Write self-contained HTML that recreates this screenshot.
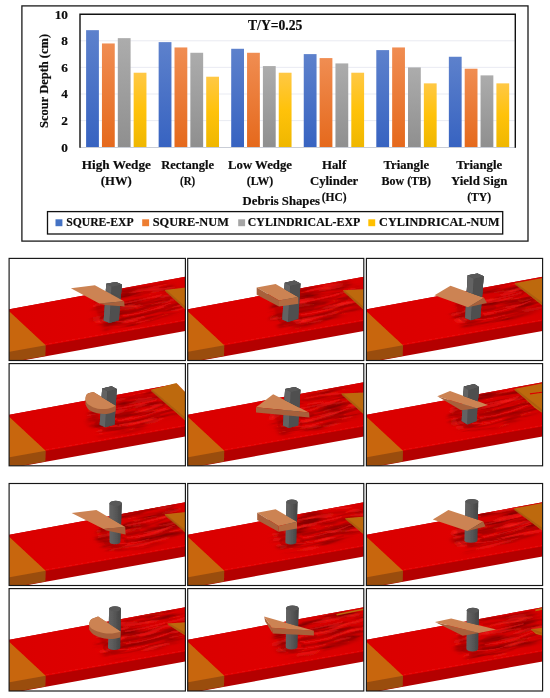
<!DOCTYPE html>
<html><head><meta charset="utf-8"><title>Scour depth figure</title>
<style>html,body{margin:0;padding:0;background:#fff}svg{display:block}text{font-family:"Liberation Serif",serif;font-weight:bold;fill:#0c0c0c;stroke:#0c0c0c;stroke-width:0.18px}</style>
</head><body>
<svg width="550" height="698" viewBox="0 0 550 698">
<defs>
<linearGradient id="gB" x1="0" y1="0" x2="0" y2="1"><stop offset="0" stop-color="#5d81cc"/><stop offset="1" stop-color="#3763c1"/></linearGradient>
<linearGradient id="gO" x1="0" y1="0" x2="0" y2="1"><stop offset="0" stop-color="#f08d52"/><stop offset="1" stop-color="#e5691c"/></linearGradient>
<linearGradient id="gG" x1="0" y1="0" x2="0" y2="1"><stop offset="0" stop-color="#acacac"/><stop offset="1" stop-color="#8f8f8f"/></linearGradient>
<linearGradient id="gY" x1="0" y1="0" x2="0" y2="1"><stop offset="0" stop-color="#ffc845"/><stop offset="0.5" stop-color="#ffc20a"/><stop offset="1" stop-color="#efb700"/></linearGradient>
<linearGradient id="gTop" x1="0" y1="0" x2="1" y2="0"><stop offset="0" stop-color="#d90000"/><stop offset="0.5" stop-color="#df0101"/><stop offset="1" stop-color="#d80000"/></linearGradient>
<linearGradient id="gFront" x1="0" y1="0" x2="0.18" y2="1"><stop offset="0" stop-color="#bc0000"/><stop offset="1" stop-color="#ac0000"/></linearGradient>
<linearGradient id="gCyl" x1="0" y1="0" x2="1" y2="0"><stop offset="0" stop-color="#646464"/><stop offset="0.45" stop-color="#595959"/><stop offset="1" stop-color="#444444"/></linearGradient>
<filter id="bl1" x="-20%" y="-50%" width="140%" height="200%"><feGaussianBlur stdDeviation="0.7"/></filter>
<filter id="bl15" x="-30%" y="-30%" width="160%" height="160%"><feGaussianBlur stdDeviation="1.2"/></filter>
<filter id="soft" filterUnits="userSpaceOnUse" x="0" y="250" width="550" height="448"><feGaussianBlur stdDeviation="0.45"/></filter>
<filter id="wrk0" color-interpolation-filters="sRGB" x="-10%" y="-20%" width="120%" height="140%"><feTurbulence type="fractalNoise" baseFrequency="0.028 0.24" numOctaves="3" seed="4" result="n"/><feColorMatrix in="n" type="matrix" values="0 0 0 0 0.52  0 0 0 0 0  0 0 0 0 0  3.0 0 0 0 -1.25" result="d"/><feGaussianBlur in="SourceAlpha" stdDeviation="2.2" result="m"/><feComposite in="d" in2="m" operator="in"/></filter>
<filter id="wrl0" color-interpolation-filters="sRGB" x="-10%" y="-20%" width="120%" height="140%"><feTurbulence type="fractalNoise" baseFrequency="0.032 0.26" numOctaves="2" seed="11" result="n"/><feColorMatrix in="n" type="matrix" values="0 0 0 0 0.97  0 0 0 0 0.12  0 0 0 0 0.10  0 2.6 0 0 -1.25" result="d"/><feGaussianBlur in="SourceAlpha" stdDeviation="2.2" result="m"/><feComposite in="d" in2="m" operator="in"/></filter>
<filter id="wrk1" color-interpolation-filters="sRGB" x="-10%" y="-20%" width="120%" height="140%"><feTurbulence type="fractalNoise" baseFrequency="0.028 0.24" numOctaves="3" seed="7" result="n"/><feColorMatrix in="n" type="matrix" values="0 0 0 0 0.52  0 0 0 0 0  0 0 0 0 0  3.0 0 0 0 -1.25" result="d"/><feGaussianBlur in="SourceAlpha" stdDeviation="2.2" result="m"/><feComposite in="d" in2="m" operator="in"/></filter>
<filter id="wrl1" color-interpolation-filters="sRGB" x="-10%" y="-20%" width="120%" height="140%"><feTurbulence type="fractalNoise" baseFrequency="0.032 0.26" numOctaves="2" seed="16" result="n"/><feColorMatrix in="n" type="matrix" values="0 0 0 0 0.97  0 0 0 0 0.12  0 0 0 0 0.10  0 2.6 0 0 -1.25" result="d"/><feGaussianBlur in="SourceAlpha" stdDeviation="2.2" result="m"/><feComposite in="d" in2="m" operator="in"/></filter>
<filter id="wrk2" color-interpolation-filters="sRGB" x="-10%" y="-20%" width="120%" height="140%"><feTurbulence type="fractalNoise" baseFrequency="0.028 0.24" numOctaves="3" seed="10" result="n"/><feColorMatrix in="n" type="matrix" values="0 0 0 0 0.52  0 0 0 0 0  0 0 0 0 0  3.0 0 0 0 -1.25" result="d"/><feGaussianBlur in="SourceAlpha" stdDeviation="2.2" result="m"/><feComposite in="d" in2="m" operator="in"/></filter>
<filter id="wrl2" color-interpolation-filters="sRGB" x="-10%" y="-20%" width="120%" height="140%"><feTurbulence type="fractalNoise" baseFrequency="0.032 0.26" numOctaves="2" seed="21" result="n"/><feColorMatrix in="n" type="matrix" values="0 0 0 0 0.97  0 0 0 0 0.12  0 0 0 0 0.10  0 2.6 0 0 -1.25" result="d"/><feGaussianBlur in="SourceAlpha" stdDeviation="2.2" result="m"/><feComposite in="d" in2="m" operator="in"/></filter>
<filter id="wrk3" color-interpolation-filters="sRGB" x="-10%" y="-20%" width="120%" height="140%"><feTurbulence type="fractalNoise" baseFrequency="0.028 0.24" numOctaves="3" seed="13" result="n"/><feColorMatrix in="n" type="matrix" values="0 0 0 0 0.52  0 0 0 0 0  0 0 0 0 0  3.0 0 0 0 -1.25" result="d"/><feGaussianBlur in="SourceAlpha" stdDeviation="2.2" result="m"/><feComposite in="d" in2="m" operator="in"/></filter>
<filter id="wrl3" color-interpolation-filters="sRGB" x="-10%" y="-20%" width="120%" height="140%"><feTurbulence type="fractalNoise" baseFrequency="0.032 0.26" numOctaves="2" seed="26" result="n"/><feColorMatrix in="n" type="matrix" values="0 0 0 0 0.97  0 0 0 0 0.12  0 0 0 0 0.10  0 2.6 0 0 -1.25" result="d"/><feGaussianBlur in="SourceAlpha" stdDeviation="2.2" result="m"/><feComposite in="d" in2="m" operator="in"/></filter>
<filter id="wrk4" color-interpolation-filters="sRGB" x="-10%" y="-20%" width="120%" height="140%"><feTurbulence type="fractalNoise" baseFrequency="0.028 0.24" numOctaves="3" seed="16" result="n"/><feColorMatrix in="n" type="matrix" values="0 0 0 0 0.52  0 0 0 0 0  0 0 0 0 0  3.0 0 0 0 -1.25" result="d"/><feGaussianBlur in="SourceAlpha" stdDeviation="2.2" result="m"/><feComposite in="d" in2="m" operator="in"/></filter>
<filter id="wrl4" color-interpolation-filters="sRGB" x="-10%" y="-20%" width="120%" height="140%"><feTurbulence type="fractalNoise" baseFrequency="0.032 0.26" numOctaves="2" seed="31" result="n"/><feColorMatrix in="n" type="matrix" values="0 0 0 0 0.97  0 0 0 0 0.12  0 0 0 0 0.10  0 2.6 0 0 -1.25" result="d"/><feGaussianBlur in="SourceAlpha" stdDeviation="2.2" result="m"/><feComposite in="d" in2="m" operator="in"/></filter>
<filter id="wrk5" color-interpolation-filters="sRGB" x="-10%" y="-20%" width="120%" height="140%"><feTurbulence type="fractalNoise" baseFrequency="0.028 0.24" numOctaves="3" seed="19" result="n"/><feColorMatrix in="n" type="matrix" values="0 0 0 0 0.52  0 0 0 0 0  0 0 0 0 0  3.0 0 0 0 -1.25" result="d"/><feGaussianBlur in="SourceAlpha" stdDeviation="2.2" result="m"/><feComposite in="d" in2="m" operator="in"/></filter>
<filter id="wrl5" color-interpolation-filters="sRGB" x="-10%" y="-20%" width="120%" height="140%"><feTurbulence type="fractalNoise" baseFrequency="0.032 0.26" numOctaves="2" seed="36" result="n"/><feColorMatrix in="n" type="matrix" values="0 0 0 0 0.97  0 0 0 0 0.12  0 0 0 0 0.10  0 2.6 0 0 -1.25" result="d"/><feGaussianBlur in="SourceAlpha" stdDeviation="2.2" result="m"/><feComposite in="d" in2="m" operator="in"/></filter>
<filter id="wrk6" color-interpolation-filters="sRGB" x="-10%" y="-20%" width="120%" height="140%"><feTurbulence type="fractalNoise" baseFrequency="0.028 0.24" numOctaves="3" seed="22" result="n"/><feColorMatrix in="n" type="matrix" values="0 0 0 0 0.52  0 0 0 0 0  0 0 0 0 0  3.0 0 0 0 -1.25" result="d"/><feGaussianBlur in="SourceAlpha" stdDeviation="2.2" result="m"/><feComposite in="d" in2="m" operator="in"/></filter>
<filter id="wrl6" color-interpolation-filters="sRGB" x="-10%" y="-20%" width="120%" height="140%"><feTurbulence type="fractalNoise" baseFrequency="0.032 0.26" numOctaves="2" seed="41" result="n"/><feColorMatrix in="n" type="matrix" values="0 0 0 0 0.97  0 0 0 0 0.12  0 0 0 0 0.10  0 2.6 0 0 -1.25" result="d"/><feGaussianBlur in="SourceAlpha" stdDeviation="2.2" result="m"/><feComposite in="d" in2="m" operator="in"/></filter>
<filter id="wrk7" color-interpolation-filters="sRGB" x="-10%" y="-20%" width="120%" height="140%"><feTurbulence type="fractalNoise" baseFrequency="0.028 0.24" numOctaves="3" seed="25" result="n"/><feColorMatrix in="n" type="matrix" values="0 0 0 0 0.52  0 0 0 0 0  0 0 0 0 0  3.0 0 0 0 -1.25" result="d"/><feGaussianBlur in="SourceAlpha" stdDeviation="2.2" result="m"/><feComposite in="d" in2="m" operator="in"/></filter>
<filter id="wrl7" color-interpolation-filters="sRGB" x="-10%" y="-20%" width="120%" height="140%"><feTurbulence type="fractalNoise" baseFrequency="0.032 0.26" numOctaves="2" seed="46" result="n"/><feColorMatrix in="n" type="matrix" values="0 0 0 0 0.97  0 0 0 0 0.12  0 0 0 0 0.10  0 2.6 0 0 -1.25" result="d"/><feGaussianBlur in="SourceAlpha" stdDeviation="2.2" result="m"/><feComposite in="d" in2="m" operator="in"/></filter>
<filter id="wrk8" color-interpolation-filters="sRGB" x="-10%" y="-20%" width="120%" height="140%"><feTurbulence type="fractalNoise" baseFrequency="0.028 0.24" numOctaves="3" seed="28" result="n"/><feColorMatrix in="n" type="matrix" values="0 0 0 0 0.52  0 0 0 0 0  0 0 0 0 0  3.0 0 0 0 -1.25" result="d"/><feGaussianBlur in="SourceAlpha" stdDeviation="2.2" result="m"/><feComposite in="d" in2="m" operator="in"/></filter>
<filter id="wrl8" color-interpolation-filters="sRGB" x="-10%" y="-20%" width="120%" height="140%"><feTurbulence type="fractalNoise" baseFrequency="0.032 0.26" numOctaves="2" seed="51" result="n"/><feColorMatrix in="n" type="matrix" values="0 0 0 0 0.97  0 0 0 0 0.12  0 0 0 0 0.10  0 2.6 0 0 -1.25" result="d"/><feGaussianBlur in="SourceAlpha" stdDeviation="2.2" result="m"/><feComposite in="d" in2="m" operator="in"/></filter>
<filter id="wrk9" color-interpolation-filters="sRGB" x="-10%" y="-20%" width="120%" height="140%"><feTurbulence type="fractalNoise" baseFrequency="0.028 0.24" numOctaves="3" seed="31" result="n"/><feColorMatrix in="n" type="matrix" values="0 0 0 0 0.52  0 0 0 0 0  0 0 0 0 0  3.0 0 0 0 -1.25" result="d"/><feGaussianBlur in="SourceAlpha" stdDeviation="2.2" result="m"/><feComposite in="d" in2="m" operator="in"/></filter>
<filter id="wrl9" color-interpolation-filters="sRGB" x="-10%" y="-20%" width="120%" height="140%"><feTurbulence type="fractalNoise" baseFrequency="0.032 0.26" numOctaves="2" seed="56" result="n"/><feColorMatrix in="n" type="matrix" values="0 0 0 0 0.97  0 0 0 0 0.12  0 0 0 0 0.10  0 2.6 0 0 -1.25" result="d"/><feGaussianBlur in="SourceAlpha" stdDeviation="2.2" result="m"/><feComposite in="d" in2="m" operator="in"/></filter>
<filter id="wrk10" color-interpolation-filters="sRGB" x="-10%" y="-20%" width="120%" height="140%"><feTurbulence type="fractalNoise" baseFrequency="0.028 0.24" numOctaves="3" seed="34" result="n"/><feColorMatrix in="n" type="matrix" values="0 0 0 0 0.52  0 0 0 0 0  0 0 0 0 0  3.0 0 0 0 -1.25" result="d"/><feGaussianBlur in="SourceAlpha" stdDeviation="2.2" result="m"/><feComposite in="d" in2="m" operator="in"/></filter>
<filter id="wrl10" color-interpolation-filters="sRGB" x="-10%" y="-20%" width="120%" height="140%"><feTurbulence type="fractalNoise" baseFrequency="0.032 0.26" numOctaves="2" seed="61" result="n"/><feColorMatrix in="n" type="matrix" values="0 0 0 0 0.97  0 0 0 0 0.12  0 0 0 0 0.10  0 2.6 0 0 -1.25" result="d"/><feGaussianBlur in="SourceAlpha" stdDeviation="2.2" result="m"/><feComposite in="d" in2="m" operator="in"/></filter>
<filter id="wrk11" color-interpolation-filters="sRGB" x="-10%" y="-20%" width="120%" height="140%"><feTurbulence type="fractalNoise" baseFrequency="0.028 0.24" numOctaves="3" seed="37" result="n"/><feColorMatrix in="n" type="matrix" values="0 0 0 0 0.52  0 0 0 0 0  0 0 0 0 0  3.0 0 0 0 -1.25" result="d"/><feGaussianBlur in="SourceAlpha" stdDeviation="2.2" result="m"/><feComposite in="d" in2="m" operator="in"/></filter>
<filter id="wrl11" color-interpolation-filters="sRGB" x="-10%" y="-20%" width="120%" height="140%"><feTurbulence type="fractalNoise" baseFrequency="0.032 0.26" numOctaves="2" seed="66" result="n"/><feColorMatrix in="n" type="matrix" values="0 0 0 0 0.97  0 0 0 0 0.12  0 0 0 0 0.10  0 2.6 0 0 -1.25" result="d"/><feGaussianBlur in="SourceAlpha" stdDeviation="2.2" result="m"/><feComposite in="d" in2="m" operator="in"/></filter>
<filter id="bl2" x="-20%" y="-30%" width="140%" height="160%"><feGaussianBlur stdDeviation="2.5"/></filter>
</defs>
<rect x="0" y="0" width="550" height="698" fill="#ffffff"/>
<g id="chart">
<rect x="21.9" y="5.9" width="506.1" height="235.2" fill="#fff" stroke="#1a1a1a" stroke-width="1.3"/>
<line x1="80.0" y1="120.60" x2="515.3" y2="120.60" stroke="#e6e9f1" stroke-width="0.9"/>
<line x1="80.0" y1="94.00" x2="515.3" y2="94.00" stroke="#e6e9f1" stroke-width="0.9"/>
<line x1="80.0" y1="67.40" x2="515.3" y2="67.40" stroke="#e6e9f1" stroke-width="0.9"/>
<line x1="80.0" y1="40.80" x2="515.3" y2="40.80" stroke="#e6e9f1" stroke-width="0.9"/>
<rect x="86.10" y="30.16" width="12.8" height="117.04" fill="url(#gB)"/>
<rect x="101.95" y="43.46" width="12.8" height="103.74" fill="url(#gO)"/>
<rect x="117.80" y="38.14" width="12.8" height="109.06" fill="url(#gG)"/>
<rect x="133.65" y="72.72" width="12.8" height="74.48" fill="url(#gY)"/>
<rect x="158.65" y="42.13" width="12.8" height="105.07" fill="url(#gB)"/>
<rect x="174.50" y="47.45" width="12.8" height="99.75" fill="url(#gO)"/>
<rect x="190.35" y="52.77" width="12.8" height="94.43" fill="url(#gG)"/>
<rect x="206.20" y="76.71" width="12.8" height="70.49" fill="url(#gY)"/>
<rect x="231.20" y="48.78" width="12.8" height="98.42" fill="url(#gB)"/>
<rect x="247.05" y="52.77" width="12.8" height="94.43" fill="url(#gO)"/>
<rect x="262.90" y="66.07" width="12.8" height="81.13" fill="url(#gG)"/>
<rect x="278.75" y="72.72" width="12.8" height="74.48" fill="url(#gY)"/>
<rect x="303.75" y="54.10" width="12.8" height="93.10" fill="url(#gB)"/>
<rect x="319.60" y="58.09" width="12.8" height="89.11" fill="url(#gO)"/>
<rect x="335.45" y="63.41" width="12.8" height="83.79" fill="url(#gG)"/>
<rect x="351.30" y="72.72" width="12.8" height="74.48" fill="url(#gY)"/>
<rect x="376.30" y="50.11" width="12.8" height="97.09" fill="url(#gB)"/>
<rect x="392.15" y="47.45" width="12.8" height="99.75" fill="url(#gO)"/>
<rect x="408.00" y="67.40" width="12.8" height="79.80" fill="url(#gG)"/>
<rect x="423.85" y="83.36" width="12.8" height="63.84" fill="url(#gY)"/>
<rect x="448.85" y="56.76" width="12.8" height="90.44" fill="url(#gB)"/>
<rect x="464.70" y="68.73" width="12.8" height="78.47" fill="url(#gO)"/>
<rect x="480.55" y="75.38" width="12.8" height="71.82" fill="url(#gG)"/>
<rect x="496.40" y="83.36" width="12.8" height="63.84" fill="url(#gY)"/>
<line x1="80.0" y1="147.5" x2="515.3" y2="147.5" stroke="#c9cdd6" stroke-width="1"/>
<path d="M80.0,147.79999999999998 L80.0,14.2 L515.3,14.2 L515.3,147.79999999999998" fill="none" stroke="#111" stroke-width="1.4"/>
<text x="68.0" y="151.60" font-size="13.3" text-anchor="end">0</text>
<text x="68.0" y="125.00" font-size="13.3" text-anchor="end">2</text>
<text x="68.0" y="98.40" font-size="13.3" text-anchor="end">4</text>
<text x="68.0" y="71.80" font-size="13.3" text-anchor="end">6</text>
<text x="68.0" y="45.20" font-size="13.3" text-anchor="end">8</text>
<text x="68.0" y="18.60" font-size="13.3" text-anchor="end">10</text>
<text transform="translate(48.3 80.9) rotate(-90)" font-size="13.2" text-anchor="middle" textLength="94" lengthAdjust="spacingAndGlyphs">Scour Depth (cm)</text>
<text x="275.2" y="29.6" font-size="14" text-anchor="middle" textLength="54.4" lengthAdjust="spacingAndGlyphs">T/Y=0.25</text>
<text x="116.3" y="168.9" font-size="13" text-anchor="middle" textLength="69.1" lengthAdjust="spacingAndGlyphs">High Wedge</text>
<text x="116.3" y="184.7" font-size="13" text-anchor="middle" textLength="31.0" lengthAdjust="spacingAndGlyphs">(HW)</text>
<text x="187.6" y="168.9" font-size="13" text-anchor="middle" textLength="52.9" lengthAdjust="spacingAndGlyphs">Rectangle</text>
<text x="187.6" y="184.7" font-size="13" text-anchor="middle" textLength="15.1" lengthAdjust="spacingAndGlyphs">(R)</text>
<text x="260.0" y="168.9" font-size="13" text-anchor="middle" textLength="64.0" lengthAdjust="spacingAndGlyphs">Low Wedge</text>
<text x="260.0" y="184.7" font-size="13" text-anchor="middle" textLength="26.6" lengthAdjust="spacingAndGlyphs">(LW)</text>
<text x="334.1" y="168.9" font-size="13" text-anchor="middle" textLength="24.3" lengthAdjust="spacingAndGlyphs">Half</text>
<text x="334.1" y="184.7" font-size="13" text-anchor="middle" textLength="48.3" lengthAdjust="spacingAndGlyphs">Cylinder</text>
<text x="334.1" y="200.5" font-size="13" text-anchor="middle" textLength="24.9" lengthAdjust="spacingAndGlyphs">(HC)</text>
<text x="406.3" y="168.9" font-size="13" text-anchor="middle" textLength="45.5" lengthAdjust="spacingAndGlyphs">Triangle</text>
<text x="406.3" y="184.7" font-size="13" text-anchor="middle" textLength="49.5" lengthAdjust="spacingAndGlyphs">Bow (TB)</text>
<text x="479.2" y="168.9" font-size="13" text-anchor="middle" textLength="46.0" lengthAdjust="spacingAndGlyphs">Triangle</text>
<text x="479.2" y="184.7" font-size="13" text-anchor="middle" textLength="56.5" lengthAdjust="spacingAndGlyphs">Yield Sign</text>
<text x="479.2" y="200.5" font-size="13" text-anchor="middle" textLength="24.1" lengthAdjust="spacingAndGlyphs">(TY)</text>
<text x="281.3" y="204.6" font-size="13" text-anchor="middle" textLength="77.4" lengthAdjust="spacingAndGlyphs">Debris Shapes</text>
<rect x="47.5" y="211.6" width="455.2" height="22.4" fill="#fff" stroke="#111" stroke-width="1.3"/>
<rect x="55.5" y="219.3" width="6.9" height="6.9" fill="#4472c4"/>
<text x="66.2" y="226.4" font-size="12.8" textLength="67.4" lengthAdjust="spacingAndGlyphs">SQURE-EXP</text>
<rect x="142.2" y="219.3" width="6.9" height="6.9" fill="#ed7d31"/>
<text x="152.7" y="226.4" font-size="12.8" textLength="76.2" lengthAdjust="spacingAndGlyphs">SQURE-NUM</text>
<rect x="238.2" y="219.3" width="6.9" height="6.9" fill="#a5a5a5"/>
<text x="247.8" y="226.4" font-size="12.8" textLength="112.4" lengthAdjust="spacingAndGlyphs">CYLINDRICAL-EXP</text>
<rect x="368.3" y="219.3" width="6.9" height="6.9" fill="#ffc000"/>
<text x="379.1" y="226.4" font-size="12.8" textLength="120.5" lengthAdjust="spacingAndGlyphs">CYLINDRICAL-NUM</text>
</g>
<defs>
<clipPath id="cp00"><rect x="9.1" y="258.4" width="176.3" height="102.1"/></clipPath>
<clipPath id="cp01"><rect x="187.7" y="258.4" width="176.1" height="102.1"/></clipPath>
<clipPath id="cp02"><rect x="366.4" y="258.4" width="176.2" height="102.1"/></clipPath>
<clipPath id="cp10"><rect x="9.1" y="363.6" width="176.3" height="102.2"/></clipPath>
<clipPath id="cp11"><rect x="187.7" y="363.6" width="176.1" height="102.2"/></clipPath>
<clipPath id="cp12"><rect x="366.4" y="363.6" width="176.2" height="102.2"/></clipPath>
<clipPath id="cp20"><rect x="9.1" y="483.5" width="176.3" height="102.0"/></clipPath>
<clipPath id="cp21"><rect x="187.7" y="483.5" width="176.1" height="102.0"/></clipPath>
<clipPath id="cp22"><rect x="366.4" y="483.5" width="176.2" height="102.0"/></clipPath>
<clipPath id="cp30"><rect x="9.1" y="588.6" width="176.3" height="102.4"/></clipPath>
<clipPath id="cp31"><rect x="187.7" y="588.6" width="176.1" height="102.4"/></clipPath>
<clipPath id="cp32"><rect x="366.4" y="588.6" width="176.2" height="102.4"/></clipPath>
</defs>
<g clip-path="url(#cp00)"><g filter="url(#soft)">
<polygon points="8.1,309.4 186.6,276.5 186.6,330.7 8.1,363.1" fill="#b40000" />
<polygon points="8.1,309.4 186.6,276.5 186.6,320.7 8.1,352.0" fill="url(#gTop)" />
<path d="M39.1,345.5 L186.6,319.7" stroke="#ec0c0c" stroke-width="1.4" stroke-opacity="0.55" fill="none"/>
<polygon points="8.1,318.2 29.1,338.2 45.7,345.2 45.4,355.9 8.1,362.6" fill="#9a4e0e" />
<polygon points="8.1,311.4 9.7,311.8 45.7,345.2 8.1,352.0" fill="#c8660a" />
<clipPath id="ts9_258"><polygon points="8.1,309.4 186.6,276.5 186.6,320.7 8.1,352.0"/></clipPath>
<g clip-path="url(#ts9_258)"><g transform="translate(111.0 322.0)">
<path d="M-16,-20 L6,-32 L52,-38 L72,-26 L70,-10 L30,2 L-6,5 L-17,-4 Z" fill="#c40000" fill-opacity="0.32" filter="url(#bl2)"/>
<g transform="rotate(-11)"><path d="M-12,-22 L10,-29 L62,-28 L84,-15 L76,1 L30,9 L-8,7 L-19,-8 Z" fill="#000" filter="url(#wrk0)"/><path d="M-12,-22 L10,-29 L62,-28 L84,-15 L76,1 L30,9 L-8,7 L-19,-8 Z" fill="#000" filter="url(#wrl0)"/></g>
<path d="M-15,-19 C-16,-8 -10,1 2,2.5 L8,1 L-5,-4 L-8,-16 Z" fill="#990000" fill-opacity="0.42" filter="url(#bl15)"/>
<ellipse cx="1" cy="-2.5" rx="11.5" ry="4.6" fill="none" stroke="#a00000" stroke-opacity="0.40" stroke-width="2.2" filter="url(#bl1)"/>
<ellipse cx="17" cy="-11.5" rx="8.5" ry="3.2" transform="rotate(-12 17 -11.5)" fill="#a00000" fill-opacity="0.45" filter="url(#bl1)"/>
<g fill="none" stroke="#9a0000" stroke-linecap="round" filter="url(#bl1)">
<path d="M10,-3 C22,-4 30,-6 38,-8.5 S56,-15 68,-18" stroke-width="2.2" stroke-opacity="0.50"/>
<path d="M12,-9.5 C24,-11 32,-13 42,-16 S52,-20 58,-22" stroke-width="2.0" stroke-opacity="0.45"/>
<path d="M11,-26.5 C22,-28 30,-29.5 38,-30.5 S48,-31.5 54,-32" stroke-width="2.2" stroke-opacity="0.30"/>
<path d="M26,-6 C36,-7 46,-10 54,-12" stroke-width="1.4" stroke-opacity="0.40"/>
<path d="M-3,3.4 C10,4 22,1 30,-1.5 S44,-6 52,-8" stroke-width="1.8" stroke-opacity="0.38"/>
<path d="M30,-18 C38,-20 46,-23 52,-26" stroke-width="1.5" stroke-opacity="0.35"/>
</g>
<g fill="none" stroke="#f41a1a" stroke-linecap="round" filter="url(#bl1)">
<path d="M11,-18.5 C24,-20.5 36,-23.5 50,-27" stroke-width="1.6" stroke-opacity="0.45"/>
<path d="M12,-6.3 C24,-7.5 34,-10 42,-12.5 S54,-17 60,-19" stroke-width="1.2" stroke-opacity="0.45"/>
<path d="M4,-0.5 C16,0 26,-2.5 34,-5" stroke-width="1.2" stroke-opacity="0.40"/>
</g>
</g></g>
<polygon points="164.7,290.1 186.0,287.5 186.0,310.2" fill="#bd690d" />
<path d="M165.9,290.7 L186.0,308.4" stroke="#a85a10" stroke-width="2" stroke-opacity="0.8" fill="none"/>
<polygon points="106.3,283.8 116.0,281.9 121.8,284.5 118.9,320.2 109.5,323.1 103.6,320.6" fill="#4f4f4f" />
<polygon points="106.3,283.8 111.6,286.7 109.5,323.1 103.6,320.6" fill="#636363" />
<polygon points="111.6,286.7 121.8,284.5 118.9,320.2 109.5,323.1" fill="#4f4f4f" />
<polygon points="106.3,283.8 116.0,281.9 121.8,284.5 111.6,286.7" fill="#595959" />
<polygon points="70.9,288.2 94.9,285.3 124.0,301.3 99.3,303.5" fill="#cc8352" />
<polygon points="99.3,303.5 124.0,301.3 124.7,306.4 105.0,305.0" fill="#a8613a" />
<clipPath id="u00"><polygon points="100.0,270.0 130.0,270.0 130.0,301.8 94.9,285.3"/></clipPath>
<g clip-path="url(#u00)">
<polygon points="106.3,283.8 116.0,281.9 121.8,284.5 118.9,320.2 109.5,323.1 103.6,320.6" fill="#4f4f4f" />
<polygon points="106.3,283.8 111.6,286.7 109.5,323.1 103.6,320.6" fill="#636363" />
<polygon points="111.6,286.7 121.8,284.5 118.9,320.2 109.5,323.1" fill="#4f4f4f" />
<polygon points="106.3,283.8 116.0,281.9 121.8,284.5 111.6,286.7" fill="#595959" />
</g>
</g></g>
<rect x="9.1" y="258.4" width="176.3" height="102.1" fill="none" stroke="#161616" stroke-width="1.15"/>
<g clip-path="url(#cp01)"><g filter="url(#soft)">
<polygon points="186.7,309.4 365.2,276.5 365.2,330.7 186.7,363.1" fill="#b40000" />
<polygon points="186.7,309.4 365.2,276.5 365.2,320.7 186.7,352.0" fill="url(#gTop)" />
<path d="M217.7,345.5 L365.2,319.7" stroke="#ec0c0c" stroke-width="1.4" stroke-opacity="0.55" fill="none"/>
<polygon points="186.7,318.2 207.7,338.2 224.3,345.2 224.0,355.9 186.7,362.6" fill="#9a4e0e" />
<polygon points="186.7,311.4 188.3,311.8 224.3,345.2 186.7,352.0" fill="#c8660a" />
<clipPath id="ts187_258"><polygon points="186.7,309.4 365.2,276.5 365.2,320.7 186.7,352.0"/></clipPath>
<g clip-path="url(#ts187_258)"><g transform="translate(289.0 321.0)">
<path d="M-16,-20 L6,-32 L52,-38 L72,-26 L70,-10 L30,2 L-6,5 L-17,-4 Z" fill="#c40000" fill-opacity="0.32" filter="url(#bl2)"/>
<g transform="rotate(-11)"><path d="M-12,-22 L10,-29 L62,-28 L84,-15 L76,1 L30,9 L-8,7 L-19,-8 Z" fill="#000" filter="url(#wrk1)"/><path d="M-12,-22 L10,-29 L62,-28 L84,-15 L76,1 L30,9 L-8,7 L-19,-8 Z" fill="#000" filter="url(#wrl1)"/></g>
<path d="M-15,-19 C-16,-8 -10,1 2,2.5 L8,1 L-5,-4 L-8,-16 Z" fill="#990000" fill-opacity="0.42" filter="url(#bl15)"/>
<ellipse cx="1" cy="-2.5" rx="11.5" ry="4.6" fill="none" stroke="#a00000" stroke-opacity="0.40" stroke-width="2.2" filter="url(#bl1)"/>
<ellipse cx="17" cy="-11.5" rx="8.5" ry="3.2" transform="rotate(-12 17 -11.5)" fill="#a00000" fill-opacity="0.45" filter="url(#bl1)"/>
<g fill="none" stroke="#9a0000" stroke-linecap="round" filter="url(#bl1)">
<path d="M10,-3 C22,-4 30,-6 38,-8.5 S56,-15 68,-18" stroke-width="2.2" stroke-opacity="0.50"/>
<path d="M12,-9.5 C24,-11 32,-13 42,-16 S52,-20 58,-22" stroke-width="2.0" stroke-opacity="0.45"/>
<path d="M11,-26.5 C22,-28 30,-29.5 38,-30.5 S48,-31.5 54,-32" stroke-width="2.2" stroke-opacity="0.30"/>
<path d="M26,-6 C36,-7 46,-10 54,-12" stroke-width="1.4" stroke-opacity="0.40"/>
<path d="M-3,3.4 C10,4 22,1 30,-1.5 S44,-6 52,-8" stroke-width="1.8" stroke-opacity="0.38"/>
<path d="M30,-18 C38,-20 46,-23 52,-26" stroke-width="1.5" stroke-opacity="0.35"/>
</g>
<g fill="none" stroke="#f41a1a" stroke-linecap="round" filter="url(#bl1)">
<path d="M11,-18.5 C24,-20.5 36,-23.5 50,-27" stroke-width="1.6" stroke-opacity="0.45"/>
<path d="M12,-6.3 C24,-7.5 34,-10 42,-12.5 S54,-17 60,-19" stroke-width="1.2" stroke-opacity="0.45"/>
<path d="M4,-0.5 C16,0 26,-2.5 34,-5" stroke-width="1.2" stroke-opacity="0.40"/>
</g>
</g></g>
<polygon points="342.8,290.3 365.0,289.3 365.0,311.2" fill="#bd690d" />
<path d="M344.0,290.9 L365.0,309.4" stroke="#a85a10" stroke-width="2" stroke-opacity="0.8" fill="none"/>
<polygon points="284.8,282.8 294.5,280.5 300.4,283.4 298.2,318.7 288.0,322.0 282.2,319.5" fill="#4f4f4f" />
<polygon points="284.8,282.8 290.2,285.7 288.0,322.0 282.2,319.5" fill="#636363" />
<polygon points="290.2,285.7 300.4,283.4 298.2,318.7 288.0,322.0" fill="#4f4f4f" />
<polygon points="284.8,282.8 294.5,280.5 300.4,283.4 290.2,285.7" fill="#595959" />
<polygon points="256.7,287.5 275.6,284.1 298.2,296.9 279.0,300.5" fill="#cc8352" />
<polygon points="256.7,287.5 279.0,300.5 279.0,306.4 256.7,294.7" fill="#a8613a" />
<polygon points="279.0,300.5 298.2,296.9 298.4,303.7 279.0,306.4" fill="#b36b40" />
<clipPath id="u10"><polygon points="280.0,270.0 310.0,270.0 310.0,298.0 298.2,296.9 275.6,284.1"/></clipPath>
<g clip-path="url(#u10)">
<polygon points="284.8,282.8 294.5,280.5 300.4,283.4 298.2,318.7 288.0,322.0 282.2,319.5" fill="#4f4f4f" />
<polygon points="284.8,282.8 290.2,285.7 288.0,322.0 282.2,319.5" fill="#636363" />
<polygon points="290.2,285.7 300.4,283.4 298.2,318.7 288.0,322.0" fill="#4f4f4f" />
<polygon points="284.8,282.8 294.5,280.5 300.4,283.4 290.2,285.7" fill="#595959" />
</g>
</g></g>
<rect x="187.7" y="258.4" width="176.1" height="102.1" fill="none" stroke="#161616" stroke-width="1.15"/>
<g clip-path="url(#cp02)"><g filter="url(#soft)">
<polygon points="365.4,309.4 543.9,276.5 543.9,330.7 365.4,363.1" fill="#b40000" />
<polygon points="365.4,309.4 543.9,276.5 543.9,320.7 365.4,352.0" fill="url(#gTop)" />
<path d="M396.4,345.5 L543.9,319.7" stroke="#ec0c0c" stroke-width="1.4" stroke-opacity="0.55" fill="none"/>
<polygon points="365.4,318.2 386.4,338.2 403.0,345.2 402.7,355.9 365.4,362.6" fill="#9a4e0e" />
<polygon points="365.4,311.4 367.0,311.8 403.0,345.2 365.4,352.0" fill="#c8660a" />
<clipPath id="ts366_258"><polygon points="365.4,309.4 543.9,276.5 543.9,320.7 365.4,352.0"/></clipPath>
<g clip-path="url(#ts366_258)"><g transform="translate(471.0 320.0)">
<path d="M-16,-20 L6,-32 L52,-38 L72,-26 L70,-10 L30,2 L-6,5 L-17,-4 Z" fill="#c40000" fill-opacity="0.32" filter="url(#bl2)"/>
<g transform="rotate(-11)"><path d="M-12,-22 L10,-29 L62,-28 L84,-15 L76,1 L30,9 L-8,7 L-19,-8 Z" fill="#000" filter="url(#wrk2)"/><path d="M-12,-22 L10,-29 L62,-28 L84,-15 L76,1 L30,9 L-8,7 L-19,-8 Z" fill="#000" filter="url(#wrl2)"/></g>
<path d="M-15,-19 C-16,-8 -10,1 2,2.5 L8,1 L-5,-4 L-8,-16 Z" fill="#990000" fill-opacity="0.42" filter="url(#bl15)"/>
<ellipse cx="1" cy="-2.5" rx="11.5" ry="4.6" fill="none" stroke="#a00000" stroke-opacity="0.40" stroke-width="2.2" filter="url(#bl1)"/>
<ellipse cx="17" cy="-11.5" rx="8.5" ry="3.2" transform="rotate(-12 17 -11.5)" fill="#a00000" fill-opacity="0.45" filter="url(#bl1)"/>
<g fill="none" stroke="#9a0000" stroke-linecap="round" filter="url(#bl1)">
<path d="M10,-3 C22,-4 30,-6 38,-8.5 S56,-15 68,-18" stroke-width="2.2" stroke-opacity="0.50"/>
<path d="M12,-9.5 C24,-11 32,-13 42,-16 S52,-20 58,-22" stroke-width="2.0" stroke-opacity="0.45"/>
<path d="M11,-26.5 C22,-28 30,-29.5 38,-30.5 S48,-31.5 54,-32" stroke-width="2.2" stroke-opacity="0.30"/>
<path d="M26,-6 C36,-7 46,-10 54,-12" stroke-width="1.4" stroke-opacity="0.40"/>
<path d="M-3,3.4 C10,4 22,1 30,-1.5 S44,-6 52,-8" stroke-width="1.8" stroke-opacity="0.38"/>
<path d="M30,-18 C38,-20 46,-23 52,-26" stroke-width="1.5" stroke-opacity="0.35"/>
</g>
<g fill="none" stroke="#f41a1a" stroke-linecap="round" filter="url(#bl1)">
<path d="M11,-18.5 C24,-20.5 36,-23.5 50,-27" stroke-width="1.6" stroke-opacity="0.45"/>
<path d="M12,-6.3 C24,-7.5 34,-10 42,-12.5 S54,-17 60,-19" stroke-width="1.2" stroke-opacity="0.45"/>
<path d="M4,-0.5 C16,0 26,-2.5 34,-5" stroke-width="1.2" stroke-opacity="0.40"/>
</g>
</g></g>
<polygon points="514.3,283.2 544.0,277.7 544.0,306.7" fill="#bd690d" />
<path d="M515.5,283.8 L544.0,304.9" stroke="#a85a10" stroke-width="2" stroke-opacity="0.8" fill="none"/>
<polygon points="467.7,275.2 477.5,273.4 483.7,276.3 480.4,317.4 470.9,320.3 465.1,318.1" fill="#4f4f4f" />
<polygon points="467.7,275.2 473.8,278.8 470.9,320.3 465.1,318.1" fill="#636363" />
<polygon points="473.8,278.8 483.7,276.3 480.4,317.4 470.9,320.3" fill="#4f4f4f" />
<polygon points="467.7,275.2 477.5,273.4 483.7,276.3 473.8,278.8" fill="#595959" />
<polygon points="434.5,295.3 450.5,285.7 484.0,297.7 468.0,307.2" fill="#cc8352" />
<polygon points="484.0,297.7 486.9,303.1 468.0,307.2" fill="#a8613a" />
<clipPath id="u20"><polygon points="450.5,260.0 495.0,260.0 495.0,301.6 484.0,297.7 450.5,285.7"/></clipPath>
<g clip-path="url(#u20)">
<polygon points="467.7,275.2 477.5,273.4 483.7,276.3 480.4,317.4 470.9,320.3 465.1,318.1" fill="#4f4f4f" />
<polygon points="467.7,275.2 473.8,278.8 470.9,320.3 465.1,318.1" fill="#636363" />
<polygon points="473.8,278.8 483.7,276.3 480.4,317.4 470.9,320.3" fill="#4f4f4f" />
<polygon points="467.7,275.2 477.5,273.4 483.7,276.3 473.8,278.8" fill="#595959" />
</g>
</g></g>
<rect x="366.4" y="258.4" width="176.2" height="102.1" fill="none" stroke="#161616" stroke-width="1.15"/>
<g clip-path="url(#cp10)"><g filter="url(#soft)">
<polygon points="8.1,414.9 186.6,382.0 186.6,436.2 8.1,468.6" fill="#b40000" />
<polygon points="8.1,414.9 186.6,382.0 186.6,426.2 8.1,457.5" fill="url(#gTop)" />
<path d="M39.1,451.0 L186.6,425.2" stroke="#ec0c0c" stroke-width="1.4" stroke-opacity="0.55" fill="none"/>
<polygon points="8.1,423.7 29.1,443.7 45.7,450.7 45.4,461.4 8.1,468.1" fill="#9a4e0e" />
<polygon points="8.1,416.9 9.7,417.3 45.7,450.7 8.1,457.5" fill="#c8660a" />
<clipPath id="ts9_363"><polygon points="8.1,414.9 186.6,382.0 186.6,426.2 8.1,457.5"/></clipPath>
<g clip-path="url(#ts9_363)"><g transform="translate(106.0 427.0)">
<path d="M-16,-20 L6,-32 L52,-38 L72,-26 L70,-10 L30,2 L-6,5 L-17,-4 Z" fill="#c40000" fill-opacity="0.32" filter="url(#bl2)"/>
<g transform="rotate(-11)"><path d="M-12,-22 L10,-29 L62,-28 L84,-15 L76,1 L30,9 L-8,7 L-19,-8 Z" fill="#000" filter="url(#wrk3)"/><path d="M-12,-22 L10,-29 L62,-28 L84,-15 L76,1 L30,9 L-8,7 L-19,-8 Z" fill="#000" filter="url(#wrl3)"/></g>
<path d="M-15,-19 C-16,-8 -10,1 2,2.5 L8,1 L-5,-4 L-8,-16 Z" fill="#990000" fill-opacity="0.42" filter="url(#bl15)"/>
<ellipse cx="1" cy="-2.5" rx="11.5" ry="4.6" fill="none" stroke="#a00000" stroke-opacity="0.40" stroke-width="2.2" filter="url(#bl1)"/>
<ellipse cx="17" cy="-11.5" rx="8.5" ry="3.2" transform="rotate(-12 17 -11.5)" fill="#a00000" fill-opacity="0.45" filter="url(#bl1)"/>
<g fill="none" stroke="#9a0000" stroke-linecap="round" filter="url(#bl1)">
<path d="M10,-3 C22,-4 30,-6 38,-8.5 S56,-15 68,-18" stroke-width="2.2" stroke-opacity="0.50"/>
<path d="M12,-9.5 C24,-11 32,-13 42,-16 S52,-20 58,-22" stroke-width="2.0" stroke-opacity="0.45"/>
<path d="M11,-26.5 C22,-28 30,-29.5 38,-30.5 S48,-31.5 54,-32" stroke-width="2.2" stroke-opacity="0.30"/>
<path d="M26,-6 C36,-7 46,-10 54,-12" stroke-width="1.4" stroke-opacity="0.40"/>
<path d="M-3,3.4 C10,4 22,1 30,-1.5 S44,-6 52,-8" stroke-width="1.8" stroke-opacity="0.38"/>
<path d="M30,-18 C38,-20 46,-23 52,-26" stroke-width="1.5" stroke-opacity="0.35"/>
</g>
<g fill="none" stroke="#f41a1a" stroke-linecap="round" filter="url(#bl1)">
<path d="M11,-18.5 C24,-20.5 36,-23.5 50,-27" stroke-width="1.6" stroke-opacity="0.45"/>
<path d="M12,-6.3 C24,-7.5 34,-10 42,-12.5 S54,-17 60,-19" stroke-width="1.2" stroke-opacity="0.45"/>
<path d="M4,-0.5 C16,0 26,-2.5 34,-5" stroke-width="1.2" stroke-opacity="0.40"/>
</g>
</g></g>
<polygon points="150.5,389.8 176.5,383.1 186.0,392.8 186.0,421.2" fill="#bd690d" />
<path d="M151.7,390.4 L186.0,419.4" stroke="#a85a10" stroke-width="2" stroke-opacity="0.8" fill="none"/>
<polygon points="176.5,383.1 176.0,370.0 190.0,370.0 190.0,397.0" fill="#ffffff" />
<polygon points="102.2,388.4 111.6,386.2 116.7,389.1 114.5,424.7 105.1,427.2 99.6,424.7" fill="#4f4f4f" />
<polygon points="102.2,388.4 107.3,391.3 105.1,427.2 99.6,424.7" fill="#636363" />
<polygon points="107.3,391.3 116.7,389.1 114.5,424.7 105.1,427.2" fill="#4f4f4f" />
<polygon points="102.2,388.4 111.6,386.2 116.7,389.1 107.3,391.3" fill="#595959" />
<path d="M93.5,392.0 C92.4,392.4 88.2,392.9 86.9,394.2 C85.6,395.5 85.7,399.0 85.5,400.0 L85.5,404.6 C86.1,405.5 87.0,408.4 89.1,409.9 C91.1,411.3 94.6,412.7 97.8,413.3 C101.0,413.9 105.0,414.1 108.0,413.7 C111.0,413.3 114.2,411.6 115.5,411.2 L116.0,405.8 Z" fill="#a8613a"/>
<path d="M93.5,392.0 C92.4,392.4 88.2,392.9 86.9,394.2 C85.6,395.5 85.1,398.2 85.5,400.0 C85.9,401.8 87.0,403.7 89.1,405.1 C91.1,406.6 94.6,408.1 97.8,408.7 C101.0,409.3 105.0,409.2 108.0,408.7 C111.0,408.2 114.7,406.3 116.0,405.8 Z" fill="#cc8352"/>
<clipPath id="u01"><polygon points="93.5,375.0 125.0,375.0 125.0,411.0 116.0,405.8 93.5,392.0"/></clipPath>
<g clip-path="url(#u01)">
<polygon points="102.2,388.4 111.6,386.2 116.7,389.1 114.5,424.7 105.1,427.2 99.6,424.7" fill="#4f4f4f" />
<polygon points="102.2,388.4 107.3,391.3 105.1,427.2 99.6,424.7" fill="#636363" />
<polygon points="107.3,391.3 116.7,389.1 114.5,424.7 105.1,427.2" fill="#4f4f4f" />
<polygon points="102.2,388.4 111.6,386.2 116.7,389.1 107.3,391.3" fill="#595959" />
</g>
</g></g>
<rect x="9.1" y="363.6" width="176.3" height="102.2" fill="none" stroke="#161616" stroke-width="1.15"/>
<g clip-path="url(#cp11)"><g filter="url(#soft)">
<polygon points="186.7,414.9 365.2,382.0 365.2,436.2 186.7,468.6" fill="#b40000" />
<polygon points="186.7,414.9 365.2,382.0 365.2,426.2 186.7,457.5" fill="url(#gTop)" />
<path d="M217.7,451.0 L365.2,425.2" stroke="#ec0c0c" stroke-width="1.4" stroke-opacity="0.55" fill="none"/>
<polygon points="186.7,423.7 207.7,443.7 224.3,450.7 224.0,461.4 186.7,468.1" fill="#9a4e0e" />
<polygon points="186.7,416.9 188.3,417.3 224.3,450.7 186.7,457.5" fill="#c8660a" />
<clipPath id="ts187_363"><polygon points="186.7,414.9 365.2,382.0 365.2,426.2 186.7,457.5"/></clipPath>
<g clip-path="url(#ts187_363)"><g transform="translate(289.0 427.0)">
<path d="M-16,-20 L6,-32 L52,-38 L72,-26 L70,-10 L30,2 L-6,5 L-17,-4 Z" fill="#c40000" fill-opacity="0.32" filter="url(#bl2)"/>
<g transform="rotate(-11)"><path d="M-12,-22 L10,-29 L62,-28 L84,-15 L76,1 L30,9 L-8,7 L-19,-8 Z" fill="#000" filter="url(#wrk4)"/><path d="M-12,-22 L10,-29 L62,-28 L84,-15 L76,1 L30,9 L-8,7 L-19,-8 Z" fill="#000" filter="url(#wrl4)"/></g>
<path d="M-15,-19 C-16,-8 -10,1 2,2.5 L8,1 L-5,-4 L-8,-16 Z" fill="#990000" fill-opacity="0.42" filter="url(#bl15)"/>
<ellipse cx="1" cy="-2.5" rx="11.5" ry="4.6" fill="none" stroke="#a00000" stroke-opacity="0.40" stroke-width="2.2" filter="url(#bl1)"/>
<ellipse cx="17" cy="-11.5" rx="8.5" ry="3.2" transform="rotate(-12 17 -11.5)" fill="#a00000" fill-opacity="0.45" filter="url(#bl1)"/>
<g fill="none" stroke="#9a0000" stroke-linecap="round" filter="url(#bl1)">
<path d="M10,-3 C22,-4 30,-6 38,-8.5 S56,-15 68,-18" stroke-width="2.2" stroke-opacity="0.50"/>
<path d="M12,-9.5 C24,-11 32,-13 42,-16 S52,-20 58,-22" stroke-width="2.0" stroke-opacity="0.45"/>
<path d="M11,-26.5 C22,-28 30,-29.5 38,-30.5 S48,-31.5 54,-32" stroke-width="2.2" stroke-opacity="0.30"/>
<path d="M26,-6 C36,-7 46,-10 54,-12" stroke-width="1.4" stroke-opacity="0.40"/>
<path d="M-3,3.4 C10,4 22,1 30,-1.5 S44,-6 52,-8" stroke-width="1.8" stroke-opacity="0.38"/>
<path d="M30,-18 C38,-20 46,-23 52,-26" stroke-width="1.5" stroke-opacity="0.35"/>
</g>
<g fill="none" stroke="#f41a1a" stroke-linecap="round" filter="url(#bl1)">
<path d="M11,-18.5 C24,-20.5 36,-23.5 50,-27" stroke-width="1.6" stroke-opacity="0.45"/>
<path d="M12,-6.3 C24,-7.5 34,-10 42,-12.5 S54,-17 60,-19" stroke-width="1.2" stroke-opacity="0.45"/>
<path d="M4,-0.5 C16,0 26,-2.5 34,-5" stroke-width="1.2" stroke-opacity="0.40"/>
</g>
</g></g>
<polygon points="341.0,393.5 365.0,392.6 365.0,415.6" fill="#bd690d" />
<path d="M342.2,394.1 L365.0,413.8" stroke="#a85a10" stroke-width="2" stroke-opacity="0.8" fill="none"/>
<polygon points="285.1,389.1 295.0,386.9 300.4,389.8 298.2,425.5 288.7,428.1 282.9,425.5" fill="#4f4f4f" />
<polygon points="285.1,389.1 290.9,392.0 288.7,428.1 282.9,425.5" fill="#636363" />
<polygon points="290.9,392.0 300.4,389.8 298.2,425.5 288.7,428.1" fill="#4f4f4f" />
<polygon points="285.1,389.1 295.0,386.9 300.4,389.8 290.9,392.0" fill="#595959" />
<polygon points="256.0,407.3 273.2,394.2 309.1,412.4" fill="#cc8352" />
<polygon points="256.0,407.3 309.1,412.4 309.5,417.5 256.0,412.4" fill="#a8613a" />
<clipPath id="u11"><polygon points="273.2,375.0 315.0,375.0 315.0,415.4 309.1,412.4 273.2,394.2"/></clipPath>
<g clip-path="url(#u11)">
<polygon points="285.1,389.1 295.0,386.9 300.4,389.8 298.2,425.5 288.7,428.1 282.9,425.5" fill="#4f4f4f" />
<polygon points="285.1,389.1 290.9,392.0 288.7,428.1 282.9,425.5" fill="#636363" />
<polygon points="290.9,392.0 300.4,389.8 298.2,425.5 288.7,428.1" fill="#4f4f4f" />
<polygon points="285.1,389.1 295.0,386.9 300.4,389.8 290.9,392.0" fill="#595959" />
</g>
</g></g>
<rect x="187.7" y="363.6" width="176.1" height="102.2" fill="none" stroke="#161616" stroke-width="1.15"/>
<g clip-path="url(#cp12)"><g filter="url(#soft)">
<polygon points="365.4,414.9 543.9,382.0 543.9,436.2 365.4,468.6" fill="#b40000" />
<polygon points="365.4,414.9 543.9,382.0 543.9,426.2 365.4,457.5" fill="url(#gTop)" />
<path d="M396.4,451.0 L543.9,425.2" stroke="#ec0c0c" stroke-width="1.4" stroke-opacity="0.55" fill="none"/>
<polygon points="365.4,423.7 386.4,443.7 403.0,450.7 402.7,461.4 365.4,468.1" fill="#9a4e0e" />
<polygon points="365.4,416.9 367.0,417.3 403.0,450.7 365.4,457.5" fill="#c8660a" />
<clipPath id="ts366_363"><polygon points="365.4,414.9 543.9,382.0 543.9,426.2 365.4,457.5"/></clipPath>
<g clip-path="url(#ts366_363)"><g transform="translate(468.0 424.0)">
<path d="M-16,-20 L6,-32 L52,-38 L72,-26 L70,-10 L30,2 L-6,5 L-17,-4 Z" fill="#c40000" fill-opacity="0.32" filter="url(#bl2)"/>
<g transform="rotate(-11)"><path d="M-12,-22 L10,-29 L62,-28 L84,-15 L76,1 L30,9 L-8,7 L-19,-8 Z" fill="#000" filter="url(#wrk5)"/><path d="M-12,-22 L10,-29 L62,-28 L84,-15 L76,1 L30,9 L-8,7 L-19,-8 Z" fill="#000" filter="url(#wrl5)"/></g>
<path d="M-15,-19 C-16,-8 -10,1 2,2.5 L8,1 L-5,-4 L-8,-16 Z" fill="#990000" fill-opacity="0.42" filter="url(#bl15)"/>
<ellipse cx="1" cy="-2.5" rx="11.5" ry="4.6" fill="none" stroke="#a00000" stroke-opacity="0.40" stroke-width="2.2" filter="url(#bl1)"/>
<ellipse cx="17" cy="-11.5" rx="8.5" ry="3.2" transform="rotate(-12 17 -11.5)" fill="#a00000" fill-opacity="0.45" filter="url(#bl1)"/>
<g fill="none" stroke="#9a0000" stroke-linecap="round" filter="url(#bl1)">
<path d="M10,-3 C22,-4 30,-6 38,-8.5 S56,-15 68,-18" stroke-width="2.2" stroke-opacity="0.50"/>
<path d="M12,-9.5 C24,-11 32,-13 42,-16 S52,-20 58,-22" stroke-width="2.0" stroke-opacity="0.45"/>
<path d="M11,-26.5 C22,-28 30,-29.5 38,-30.5 S48,-31.5 54,-32" stroke-width="2.2" stroke-opacity="0.30"/>
<path d="M26,-6 C36,-7 46,-10 54,-12" stroke-width="1.4" stroke-opacity="0.40"/>
<path d="M-3,3.4 C10,4 22,1 30,-1.5 S44,-6 52,-8" stroke-width="1.8" stroke-opacity="0.38"/>
<path d="M30,-18 C38,-20 46,-23 52,-26" stroke-width="1.5" stroke-opacity="0.35"/>
</g>
<g fill="none" stroke="#f41a1a" stroke-linecap="round" filter="url(#bl1)">
<path d="M11,-18.5 C24,-20.5 36,-23.5 50,-27" stroke-width="1.6" stroke-opacity="0.45"/>
<path d="M12,-6.3 C24,-7.5 34,-10 42,-12.5 S54,-17 60,-19" stroke-width="1.2" stroke-opacity="0.45"/>
<path d="M4,-0.5 C16,0 26,-2.5 34,-5" stroke-width="1.2" stroke-opacity="0.40"/>
</g>
</g></g>
<polygon points="514.0,388.9 544.0,383.0 544.0,414.0 535.0,408.0 527.0,400.5" fill="#bd690d" />
<path d="M515.2,389.5 L544.0,412.2" stroke="#a85a10" stroke-width="2" stroke-opacity="0.8" fill="none"/>
<path d="M529.8,393.2 L544,391.4 L544,392.6 L530,394.4 Z" fill="#dc0000"/>
<polygon points="463.9,386.4 474.3,384.1 478.9,387.1 476.6,421.0 467.3,424.5 461.6,421.0" fill="#4f4f4f" />
<polygon points="463.9,386.4 468.5,389.9 467.3,424.5 461.6,421.0" fill="#636363" />
<polygon points="468.5,389.9 478.9,387.1 476.6,421.0 467.3,424.5" fill="#4f4f4f" />
<polygon points="463.9,386.4 474.3,384.1 478.9,387.1 468.5,389.9" fill="#595959" />
<polygon points="437.3,396.3 476.6,408.3 461.1,410.2" fill="#a8613a" />
<polygon points="437.3,396.3 450.0,391.0 488.1,404.9 476.6,408.3" fill="#cc8352" />
<clipPath id="u21"><polygon points="450.0,370.0 495.0,370.0 495.0,407.4 488.1,404.9 450.0,391.0"/></clipPath>
<g clip-path="url(#u21)">
<polygon points="463.9,386.4 474.3,384.1 478.9,387.1 476.6,421.0 467.3,424.5 461.6,421.0" fill="#4f4f4f" />
<polygon points="463.9,386.4 468.5,389.9 467.3,424.5 461.6,421.0" fill="#636363" />
<polygon points="468.5,389.9 478.9,387.1 476.6,421.0 467.3,424.5" fill="#4f4f4f" />
<polygon points="463.9,386.4 474.3,384.1 478.9,387.1 468.5,389.9" fill="#595959" />
</g>
</g></g>
<rect x="366.4" y="363.6" width="176.2" height="102.2" fill="none" stroke="#161616" stroke-width="1.15"/>
<g clip-path="url(#cp20)"><g filter="url(#soft)">
<polygon points="8.1,534.9 186.6,502.0 186.6,556.2 8.1,588.6" fill="#b40000" />
<polygon points="8.1,534.9 186.6,502.0 186.6,546.2 8.1,577.5" fill="url(#gTop)" />
<path d="M39.1,571.0 L186.6,545.2" stroke="#ec0c0c" stroke-width="1.4" stroke-opacity="0.55" fill="none"/>
<polygon points="8.1,543.7 29.1,563.7 45.7,570.7 45.4,581.4 8.1,588.1" fill="#9a4e0e" />
<polygon points="8.1,536.9 9.7,537.3 45.7,570.7 8.1,577.5" fill="#c8660a" />
<clipPath id="ts9_483"><polygon points="8.1,534.9 186.6,502.0 186.6,546.2 8.1,577.5"/></clipPath>
<g clip-path="url(#ts9_483)"><g transform="translate(115.0 544.0)">
<path d="M-16,-20 L6,-32 L52,-38 L72,-26 L70,-10 L30,2 L-6,5 L-17,-4 Z" fill="#c40000" fill-opacity="0.32" filter="url(#bl2)"/>
<g transform="rotate(-11)"><path d="M-12,-22 L10,-29 L62,-28 L84,-15 L76,1 L30,9 L-8,7 L-19,-8 Z" fill="#000" filter="url(#wrk6)"/><path d="M-12,-22 L10,-29 L62,-28 L84,-15 L76,1 L30,9 L-8,7 L-19,-8 Z" fill="#000" filter="url(#wrl6)"/></g>
<path d="M-15,-19 C-16,-8 -10,1 2,2.5 L8,1 L-5,-4 L-8,-16 Z" fill="#990000" fill-opacity="0.42" filter="url(#bl15)"/>
<ellipse cx="1" cy="-2.5" rx="11.5" ry="4.6" fill="none" stroke="#a00000" stroke-opacity="0.40" stroke-width="2.2" filter="url(#bl1)"/>
<ellipse cx="17" cy="-11.5" rx="8.5" ry="3.2" transform="rotate(-12 17 -11.5)" fill="#a00000" fill-opacity="0.45" filter="url(#bl1)"/>
<g fill="none" stroke="#9a0000" stroke-linecap="round" filter="url(#bl1)">
<path d="M10,-3 C22,-4 30,-6 38,-8.5 S56,-15 68,-18" stroke-width="2.2" stroke-opacity="0.50"/>
<path d="M12,-9.5 C24,-11 32,-13 42,-16 S52,-20 58,-22" stroke-width="2.0" stroke-opacity="0.45"/>
<path d="M11,-26.5 C22,-28 30,-29.5 38,-30.5 S48,-31.5 54,-32" stroke-width="2.2" stroke-opacity="0.30"/>
<path d="M26,-6 C36,-7 46,-10 54,-12" stroke-width="1.4" stroke-opacity="0.40"/>
<path d="M-3,3.4 C10,4 22,1 30,-1.5 S44,-6 52,-8" stroke-width="1.8" stroke-opacity="0.38"/>
<path d="M30,-18 C38,-20 46,-23 52,-26" stroke-width="1.5" stroke-opacity="0.35"/>
</g>
<g fill="none" stroke="#f41a1a" stroke-linecap="round" filter="url(#bl1)">
<path d="M11,-18.5 C24,-20.5 36,-23.5 50,-27" stroke-width="1.6" stroke-opacity="0.45"/>
<path d="M12,-6.3 C24,-7.5 34,-10 42,-12.5 S54,-17 60,-19" stroke-width="1.2" stroke-opacity="0.45"/>
<path d="M4,-0.5 C16,0 26,-2.5 34,-5" stroke-width="1.2" stroke-opacity="0.40"/>
</g>
</g></g>
<polygon points="164.4,514.3 186.0,511.9 186.0,533.6 176.0,523.5" fill="#bd690d" />
<path d="M165.6,514.9 L186.0,531.8" stroke="#a85a10" stroke-width="2" stroke-opacity="0.8" fill="none"/>
<path d="M109.5,503.4 L109.5,541.9 A5.5,2.6 0 0 0 120.4,541.9 L121.8,503.4 Z" fill="url(#gCyl)"/>
<ellipse cx="115.7" cy="503.4" rx="6.1" ry="2.6" fill="#585858"/>
<polygon points="71.6,513.1 96.4,509.9 125.2,527.1 103.6,529.1" fill="#cc8352" />
<polygon points="103.6,529.1 125.2,526.8 125.6,534.4 106.5,530.5" fill="#a8613a" />
<clipPath id="u02"><polygon points="96.4,495.0 130.0,495.0 130.0,530.0 125.2,527.1 96.4,509.9"/></clipPath>
<g clip-path="url(#u02)">
<path d="M109.5,503.4 L109.5,541.9 A5.5,2.6 0 0 0 120.4,541.9 L121.8,503.4 Z" fill="url(#gCyl)"/>
<ellipse cx="115.7" cy="503.4" rx="6.1" ry="2.6" fill="#585858"/>
</g>
</g></g>
<rect x="9.1" y="483.5" width="176.3" height="102.0" fill="none" stroke="#161616" stroke-width="1.15"/>
<g clip-path="url(#cp21)"><g filter="url(#soft)">
<polygon points="186.7,534.9 365.2,502.0 365.2,556.2 186.7,588.6" fill="#b40000" />
<polygon points="186.7,534.9 365.2,502.0 365.2,546.2 186.7,577.5" fill="url(#gTop)" />
<path d="M217.7,571.0 L365.2,545.2" stroke="#ec0c0c" stroke-width="1.4" stroke-opacity="0.55" fill="none"/>
<polygon points="186.7,543.7 207.7,563.7 224.3,570.7 224.0,581.4 186.7,588.1" fill="#9a4e0e" />
<polygon points="186.7,536.9 188.3,537.3 224.3,570.7 186.7,577.5" fill="#c8660a" />
<clipPath id="ts187_483"><polygon points="186.7,534.9 365.2,502.0 365.2,546.2 186.7,577.5"/></clipPath>
<g clip-path="url(#ts187_483)"><g transform="translate(291.0 544.0)">
<path d="M-16,-20 L6,-32 L52,-38 L72,-26 L70,-10 L30,2 L-6,5 L-17,-4 Z" fill="#c40000" fill-opacity="0.32" filter="url(#bl2)"/>
<g transform="rotate(-11)"><path d="M-12,-22 L10,-29 L62,-28 L84,-15 L76,1 L30,9 L-8,7 L-19,-8 Z" fill="#000" filter="url(#wrk7)"/><path d="M-12,-22 L10,-29 L62,-28 L84,-15 L76,1 L30,9 L-8,7 L-19,-8 Z" fill="#000" filter="url(#wrl7)"/></g>
<path d="M-15,-19 C-16,-8 -10,1 2,2.5 L8,1 L-5,-4 L-8,-16 Z" fill="#990000" fill-opacity="0.42" filter="url(#bl15)"/>
<ellipse cx="1" cy="-2.5" rx="11.5" ry="4.6" fill="none" stroke="#a00000" stroke-opacity="0.40" stroke-width="2.2" filter="url(#bl1)"/>
<ellipse cx="17" cy="-11.5" rx="8.5" ry="3.2" transform="rotate(-12 17 -11.5)" fill="#a00000" fill-opacity="0.45" filter="url(#bl1)"/>
<g fill="none" stroke="#9a0000" stroke-linecap="round" filter="url(#bl1)">
<path d="M10,-3 C22,-4 30,-6 38,-8.5 S56,-15 68,-18" stroke-width="2.2" stroke-opacity="0.50"/>
<path d="M12,-9.5 C24,-11 32,-13 42,-16 S52,-20 58,-22" stroke-width="2.0" stroke-opacity="0.45"/>
<path d="M11,-26.5 C22,-28 30,-29.5 38,-30.5 S48,-31.5 54,-32" stroke-width="2.2" stroke-opacity="0.30"/>
<path d="M26,-6 C36,-7 46,-10 54,-12" stroke-width="1.4" stroke-opacity="0.40"/>
<path d="M-3,3.4 C10,4 22,1 30,-1.5 S44,-6 52,-8" stroke-width="1.8" stroke-opacity="0.38"/>
<path d="M30,-18 C38,-20 46,-23 52,-26" stroke-width="1.5" stroke-opacity="0.35"/>
</g>
<g fill="none" stroke="#f41a1a" stroke-linecap="round" filter="url(#bl1)">
<path d="M11,-18.5 C24,-20.5 36,-23.5 50,-27" stroke-width="1.6" stroke-opacity="0.45"/>
<path d="M12,-6.3 C24,-7.5 34,-10 42,-12.5 S54,-17 60,-19" stroke-width="1.2" stroke-opacity="0.45"/>
<path d="M4,-0.5 C16,0 26,-2.5 34,-5" stroke-width="1.2" stroke-opacity="0.40"/>
</g>
</g></g>
<polygon points="344.8,518.2 365.0,516.5 365.0,535.6" fill="#bd690d" />
<path d="M346.0,518.8 L365.0,533.8" stroke="#a85a10" stroke-width="2" stroke-opacity="0.8" fill="none"/>
<path d="M286.3,501.9 L285.4,542.2 A5.5,2.3 0 0 0 296.4,542.2 L297.5,501.9 Z" fill="url(#gCyl)"/>
<ellipse cx="291.9" cy="501.9" rx="5.6" ry="2.3" fill="#585858"/>
<polygon points="257.2,512.8 275.6,509.2 297.0,521.8 278.5,525.9" fill="#cc8352" />
<polygon points="257.2,512.8 278.5,525.9 278.5,531.7 257.2,520.1" fill="#a8613a" />
<polygon points="278.5,525.9 297.0,521.8 297.0,528.5 278.5,531.7" fill="#b36b40" />
<clipPath id="u12"><polygon points="275.6,495.0 305.0,495.0 305.0,526.0 297.0,521.8 275.6,509.2"/></clipPath>
<g clip-path="url(#u12)">
<path d="M286.3,501.9 L285.4,542.2 A5.5,2.3 0 0 0 296.4,542.2 L297.5,501.9 Z" fill="url(#gCyl)"/>
<ellipse cx="291.9" cy="501.9" rx="5.6" ry="2.3" fill="#585858"/>
</g>
</g></g>
<rect x="187.7" y="483.5" width="176.1" height="102.0" fill="none" stroke="#161616" stroke-width="1.15"/>
<g clip-path="url(#cp22)"><g filter="url(#soft)">
<polygon points="365.4,534.9 543.9,502.0 543.9,556.2 365.4,588.6" fill="#b40000" />
<polygon points="365.4,534.9 543.9,502.0 543.9,546.2 365.4,577.5" fill="url(#gTop)" />
<path d="M396.4,571.0 L543.9,545.2" stroke="#ec0c0c" stroke-width="1.4" stroke-opacity="0.55" fill="none"/>
<polygon points="365.4,543.7 386.4,563.7 403.0,570.7 402.7,581.4 365.4,588.1" fill="#9a4e0e" />
<polygon points="365.4,536.9 367.0,537.3 403.0,570.7 365.4,577.5" fill="#c8660a" />
<clipPath id="ts366_483"><polygon points="365.4,534.9 543.9,502.0 543.9,546.2 365.4,577.5"/></clipPath>
<g clip-path="url(#ts366_483)"><g transform="translate(471.0 543.0)">
<path d="M-16,-20 L6,-32 L52,-38 L72,-26 L70,-10 L30,2 L-6,5 L-17,-4 Z" fill="#c40000" fill-opacity="0.32" filter="url(#bl2)"/>
<g transform="rotate(-11)"><path d="M-12,-22 L10,-29 L62,-28 L84,-15 L76,1 L30,9 L-8,7 L-19,-8 Z" fill="#000" filter="url(#wrk8)"/><path d="M-12,-22 L10,-29 L62,-28 L84,-15 L76,1 L30,9 L-8,7 L-19,-8 Z" fill="#000" filter="url(#wrl8)"/></g>
<path d="M-15,-19 C-16,-8 -10,1 2,2.5 L8,1 L-5,-4 L-8,-16 Z" fill="#990000" fill-opacity="0.42" filter="url(#bl15)"/>
<ellipse cx="1" cy="-2.5" rx="11.5" ry="4.6" fill="none" stroke="#a00000" stroke-opacity="0.40" stroke-width="2.2" filter="url(#bl1)"/>
<ellipse cx="17" cy="-11.5" rx="8.5" ry="3.2" transform="rotate(-12 17 -11.5)" fill="#a00000" fill-opacity="0.45" filter="url(#bl1)"/>
<g fill="none" stroke="#9a0000" stroke-linecap="round" filter="url(#bl1)">
<path d="M10,-3 C22,-4 30,-6 38,-8.5 S56,-15 68,-18" stroke-width="2.2" stroke-opacity="0.50"/>
<path d="M12,-9.5 C24,-11 32,-13 42,-16 S52,-20 58,-22" stroke-width="2.0" stroke-opacity="0.45"/>
<path d="M11,-26.5 C22,-28 30,-29.5 38,-30.5 S48,-31.5 54,-32" stroke-width="2.2" stroke-opacity="0.30"/>
<path d="M26,-6 C36,-7 46,-10 54,-12" stroke-width="1.4" stroke-opacity="0.40"/>
<path d="M-3,3.4 C10,4 22,1 30,-1.5 S44,-6 52,-8" stroke-width="1.8" stroke-opacity="0.38"/>
<path d="M30,-18 C38,-20 46,-23 52,-26" stroke-width="1.5" stroke-opacity="0.35"/>
</g>
<g fill="none" stroke="#f41a1a" stroke-linecap="round" filter="url(#bl1)">
<path d="M11,-18.5 C24,-20.5 36,-23.5 50,-27" stroke-width="1.6" stroke-opacity="0.45"/>
<path d="M12,-6.3 C24,-7.5 34,-10 42,-12.5 S54,-17 60,-19" stroke-width="1.2" stroke-opacity="0.45"/>
<path d="M4,-0.5 C16,0 26,-2.5 34,-5" stroke-width="1.2" stroke-opacity="0.40"/>
</g>
</g></g>
<polygon points="513.5,508.6 544.0,502.7 544.0,532.0" fill="#bd690d" />
<path d="M514.7,509.2 L544.0,530.2" stroke="#a85a10" stroke-width="2" stroke-opacity="0.8" fill="none"/>
<path d="M465.4,501.5 L464.4,540.6 A6.6,2.5 0 0 0 477.5,540.6 L478.2,501.5 Z" fill="url(#gCyl)"/>
<ellipse cx="471.8" cy="501.5" rx="6.4" ry="2.5" fill="#585858"/>
<polygon points="432.8,519.4 448.4,509.9 483.3,521.5 467.3,531.0" fill="#cc8352" />
<polygon points="483.3,521.5 485.5,526.6 467.3,531.0" fill="#a8613a" />
<clipPath id="u22"><polygon points="448.4,490.0 495.0,490.0 495.0,525.4 483.3,521.5 448.4,509.9"/></clipPath>
<g clip-path="url(#u22)">
<path d="M465.4,501.5 L464.4,540.6 A6.6,2.5 0 0 0 477.5,540.6 L478.2,501.5 Z" fill="url(#gCyl)"/>
<ellipse cx="471.8" cy="501.5" rx="6.4" ry="2.5" fill="#585858"/>
</g>
</g></g>
<rect x="366.4" y="483.5" width="176.2" height="102.0" fill="none" stroke="#161616" stroke-width="1.15"/>
<g clip-path="url(#cp30)"><g filter="url(#soft)">
<polygon points="8.1,639.9 186.6,607.0 186.6,661.2 8.1,693.6" fill="#b40000" />
<polygon points="8.1,639.9 186.6,607.0 186.6,651.2 8.1,682.5" fill="url(#gTop)" />
<path d="M39.1,676.0 L186.6,650.2" stroke="#ec0c0c" stroke-width="1.4" stroke-opacity="0.55" fill="none"/>
<polygon points="8.1,648.7 29.1,668.7 45.7,675.7 45.4,686.4 8.1,693.1" fill="#9a4e0e" />
<polygon points="8.1,641.9 9.7,642.3 45.7,675.7 8.1,682.5" fill="#c8660a" />
<clipPath id="ts9_588"><polygon points="8.1,639.9 186.6,607.0 186.6,651.2 8.1,682.5"/></clipPath>
<g clip-path="url(#ts9_588)"><g transform="translate(114.5 650.0)">
<path d="M-16,-20 L6,-32 L52,-38 L72,-26 L70,-10 L30,2 L-6,5 L-17,-4 Z" fill="#c40000" fill-opacity="0.32" filter="url(#bl2)"/>
<g transform="rotate(-11)"><path d="M-12,-22 L10,-29 L62,-28 L84,-15 L76,1 L30,9 L-8,7 L-19,-8 Z" fill="#000" filter="url(#wrk9)"/><path d="M-12,-22 L10,-29 L62,-28 L84,-15 L76,1 L30,9 L-8,7 L-19,-8 Z" fill="#000" filter="url(#wrl9)"/></g>
<path d="M-15,-19 C-16,-8 -10,1 2,2.5 L8,1 L-5,-4 L-8,-16 Z" fill="#990000" fill-opacity="0.42" filter="url(#bl15)"/>
<ellipse cx="1" cy="-2.5" rx="11.5" ry="4.6" fill="none" stroke="#a00000" stroke-opacity="0.40" stroke-width="2.2" filter="url(#bl1)"/>
<ellipse cx="17" cy="-11.5" rx="8.5" ry="3.2" transform="rotate(-12 17 -11.5)" fill="#a00000" fill-opacity="0.45" filter="url(#bl1)"/>
<g fill="none" stroke="#9a0000" stroke-linecap="round" filter="url(#bl1)">
<path d="M10,-3 C22,-4 30,-6 38,-8.5 S56,-15 68,-18" stroke-width="2.2" stroke-opacity="0.50"/>
<path d="M12,-9.5 C24,-11 32,-13 42,-16 S52,-20 58,-22" stroke-width="2.0" stroke-opacity="0.45"/>
<path d="M11,-26.5 C22,-28 30,-29.5 38,-30.5 S48,-31.5 54,-32" stroke-width="2.2" stroke-opacity="0.30"/>
<path d="M26,-6 C36,-7 46,-10 54,-12" stroke-width="1.4" stroke-opacity="0.40"/>
<path d="M-3,3.4 C10,4 22,1 30,-1.5 S44,-6 52,-8" stroke-width="1.8" stroke-opacity="0.38"/>
<path d="M30,-18 C38,-20 46,-23 52,-26" stroke-width="1.5" stroke-opacity="0.35"/>
</g>
<g fill="none" stroke="#f41a1a" stroke-linecap="round" filter="url(#bl1)">
<path d="M11,-18.5 C24,-20.5 36,-23.5 50,-27" stroke-width="1.6" stroke-opacity="0.45"/>
<path d="M12,-6.3 C24,-7.5 34,-10 42,-12.5 S54,-17 60,-19" stroke-width="1.2" stroke-opacity="0.45"/>
<path d="M4,-0.5 C16,0 26,-2.5 34,-5" stroke-width="1.2" stroke-opacity="0.40"/>
</g>
</g></g>
<polygon points="167.2,623.5 186.0,622.3 186.0,636.0 176.0,629.5" fill="#bd690d" />
<path d="M168.4,624.1 L186.0,634.2" stroke="#a85a10" stroke-width="2" stroke-opacity="0.8" fill="none"/>
<path d="M109.2,608.8 L108.0,647.5 A6.2,2.6 0 0 0 120.4,647.5 L120.8,608.8 Z" fill="url(#gCyl)"/>
<ellipse cx="115.0" cy="608.8" rx="5.8" ry="2.6" fill="#585858"/>
<path d="M98.1,616.4 C97.0,616.9 92.8,618.0 91.3,619.3 C89.8,620.6 89.5,623.5 89.1,624.4 L89.1,629.5 C89.8,630.3 91.3,633.1 93.5,634.5 C95.7,635.9 99.0,637.2 102.2,637.9 C105.4,638.6 109.4,639.0 112.4,638.9 C115.4,638.8 119.1,637.7 120.4,637.5 L120.8,631.6 Z" fill="#a8613a"/>
<path d="M98.1,616.4 C97.0,616.9 92.8,618.0 91.3,619.3 C89.8,620.6 88.9,622.8 89.1,624.4 C89.3,626.0 90.5,627.8 92.7,629.2 C94.9,630.6 98.9,632.0 102.2,632.7 C105.5,633.4 109.3,633.7 112.4,633.5 C115.5,633.3 119.4,631.9 120.8,631.6 Z" fill="#cc8352"/>
<clipPath id="u03"><polygon points="98.1,600.0 130.0,600.0 130.0,637.8 120.8,631.6 98.1,616.4"/></clipPath>
<g clip-path="url(#u03)">
<path d="M109.2,608.8 L108.0,647.5 A6.2,2.6 0 0 0 120.4,647.5 L120.8,608.8 Z" fill="url(#gCyl)"/>
<ellipse cx="115.0" cy="608.8" rx="5.8" ry="2.6" fill="#585858"/>
</g>
</g></g>
<rect x="9.1" y="588.6" width="176.3" height="102.4" fill="none" stroke="#161616" stroke-width="1.15"/>
<g clip-path="url(#cp31)"><g filter="url(#soft)">
<polygon points="186.7,639.9 365.2,607.0 365.2,661.2 186.7,693.6" fill="#b40000" />
<polygon points="186.7,639.9 365.2,607.0 365.2,651.2 186.7,682.5" fill="url(#gTop)" />
<path d="M217.7,676.0 L365.2,650.2" stroke="#ec0c0c" stroke-width="1.4" stroke-opacity="0.55" fill="none"/>
<polygon points="186.7,648.7 207.7,668.7 224.3,675.7 224.0,686.4 186.7,693.1" fill="#9a4e0e" />
<polygon points="186.7,641.9 188.3,642.3 224.3,675.7 186.7,682.5" fill="#c8660a" />
<clipPath id="ts187_588"><polygon points="186.7,639.9 365.2,607.0 365.2,651.2 186.7,682.5"/></clipPath>
<g clip-path="url(#ts187_588)"><g transform="translate(292.0 649.0)">
<path d="M-16,-20 L6,-32 L52,-38 L72,-26 L70,-10 L30,2 L-6,5 L-17,-4 Z" fill="#c40000" fill-opacity="0.32" filter="url(#bl2)"/>
<g transform="rotate(-11)"><path d="M-12,-22 L10,-29 L62,-28 L84,-15 L76,1 L30,9 L-8,7 L-19,-8 Z" fill="#000" filter="url(#wrk10)"/><path d="M-12,-22 L10,-29 L62,-28 L84,-15 L76,1 L30,9 L-8,7 L-19,-8 Z" fill="#000" filter="url(#wrl10)"/></g>
<path d="M-15,-19 C-16,-8 -10,1 2,2.5 L8,1 L-5,-4 L-8,-16 Z" fill="#990000" fill-opacity="0.42" filter="url(#bl15)"/>
<ellipse cx="1" cy="-2.5" rx="11.5" ry="4.6" fill="none" stroke="#a00000" stroke-opacity="0.40" stroke-width="2.2" filter="url(#bl1)"/>
<ellipse cx="17" cy="-11.5" rx="8.5" ry="3.2" transform="rotate(-12 17 -11.5)" fill="#a00000" fill-opacity="0.45" filter="url(#bl1)"/>
<g fill="none" stroke="#9a0000" stroke-linecap="round" filter="url(#bl1)">
<path d="M10,-3 C22,-4 30,-6 38,-8.5 S56,-15 68,-18" stroke-width="2.2" stroke-opacity="0.50"/>
<path d="M12,-9.5 C24,-11 32,-13 42,-16 S52,-20 58,-22" stroke-width="2.0" stroke-opacity="0.45"/>
<path d="M11,-26.5 C22,-28 30,-29.5 38,-30.5 S48,-31.5 54,-32" stroke-width="2.2" stroke-opacity="0.30"/>
<path d="M26,-6 C36,-7 46,-10 54,-12" stroke-width="1.4" stroke-opacity="0.40"/>
<path d="M-3,3.4 C10,4 22,1 30,-1.5 S44,-6 52,-8" stroke-width="1.8" stroke-opacity="0.38"/>
<path d="M30,-18 C38,-20 46,-23 52,-26" stroke-width="1.5" stroke-opacity="0.35"/>
</g>
<g fill="none" stroke="#f41a1a" stroke-linecap="round" filter="url(#bl1)">
<path d="M11,-18.5 C24,-20.5 36,-23.5 50,-27" stroke-width="1.6" stroke-opacity="0.45"/>
<path d="M12,-6.3 C24,-7.5 34,-10 42,-12.5 S54,-17 60,-19" stroke-width="1.2" stroke-opacity="0.45"/>
<path d="M4,-0.5 C16,0 26,-2.5 34,-5" stroke-width="1.2" stroke-opacity="0.40"/>
</g>
</g></g>
<polygon points="336.3,614.0 365.0,608.2 365.0,609.8 336.8,615.6" fill="#bd690d" />
<path d="M286.2,608.2 L285.7,646.9 A5.9,2.6 0 0 0 297.5,646.9 L298.6,608.2 Z" fill="url(#gCyl)"/>
<ellipse cx="292.4" cy="608.2" rx="6.2" ry="2.6" fill="#585858"/>
<polygon points="264.2,616.6 271.7,627.7 272.8,633.5 265.2,621.5" fill="#a8613a" />
<polygon points="271.7,627.7 313.9,630.7 313.9,635.4 272.8,633.5" fill="#a8613a" />
<polygon points="264.2,616.6 313.9,630.7 271.7,627.7" fill="#cc8352" />
<clipPath id="u13"><polygon points="264.2,600.0 320.0,600.0 320.0,632.4 313.9,630.7 264.2,616.6"/></clipPath>
<g clip-path="url(#u13)">
<path d="M286.2,608.2 L285.7,646.9 A5.9,2.6 0 0 0 297.5,646.9 L298.6,608.2 Z" fill="url(#gCyl)"/>
<ellipse cx="292.4" cy="608.2" rx="6.2" ry="2.6" fill="#585858"/>
</g>
</g></g>
<rect x="187.7" y="588.6" width="176.1" height="102.4" fill="none" stroke="#161616" stroke-width="1.15"/>
<g clip-path="url(#cp32)"><g filter="url(#soft)">
<polygon points="365.4,639.9 543.9,607.0 543.9,661.2 365.4,693.6" fill="#b40000" />
<polygon points="365.4,639.9 543.9,607.0 543.9,651.2 365.4,682.5" fill="url(#gTop)" />
<path d="M396.4,676.0 L543.9,650.2" stroke="#ec0c0c" stroke-width="1.4" stroke-opacity="0.55" fill="none"/>
<polygon points="365.4,648.7 386.4,668.7 403.0,675.7 402.7,686.4 365.4,693.1" fill="#9a4e0e" />
<polygon points="365.4,641.9 367.0,642.3 403.0,675.7 365.4,682.5" fill="#c8660a" />
<clipPath id="ts366_588"><polygon points="365.4,639.9 543.9,607.0 543.9,651.2 365.4,682.5"/></clipPath>
<g clip-path="url(#ts366_588)"><g transform="translate(473.0 651.0)">
<path d="M-16,-20 L6,-32 L52,-38 L72,-26 L70,-10 L30,2 L-6,5 L-17,-4 Z" fill="#c40000" fill-opacity="0.32" filter="url(#bl2)"/>
<g transform="rotate(-11)"><path d="M-12,-22 L10,-29 L62,-28 L84,-15 L76,1 L30,9 L-8,7 L-19,-8 Z" fill="#000" filter="url(#wrk11)"/><path d="M-12,-22 L10,-29 L62,-28 L84,-15 L76,1 L30,9 L-8,7 L-19,-8 Z" fill="#000" filter="url(#wrl11)"/></g>
<path d="M-15,-19 C-16,-8 -10,1 2,2.5 L8,1 L-5,-4 L-8,-16 Z" fill="#990000" fill-opacity="0.42" filter="url(#bl15)"/>
<ellipse cx="1" cy="-2.5" rx="11.5" ry="4.6" fill="none" stroke="#a00000" stroke-opacity="0.40" stroke-width="2.2" filter="url(#bl1)"/>
<ellipse cx="17" cy="-11.5" rx="8.5" ry="3.2" transform="rotate(-12 17 -11.5)" fill="#a00000" fill-opacity="0.45" filter="url(#bl1)"/>
<g fill="none" stroke="#9a0000" stroke-linecap="round" filter="url(#bl1)">
<path d="M10,-3 C22,-4 30,-6 38,-8.5 S56,-15 68,-18" stroke-width="2.2" stroke-opacity="0.50"/>
<path d="M12,-9.5 C24,-11 32,-13 42,-16 S52,-20 58,-22" stroke-width="2.0" stroke-opacity="0.45"/>
<path d="M11,-26.5 C22,-28 30,-29.5 38,-30.5 S48,-31.5 54,-32" stroke-width="2.2" stroke-opacity="0.30"/>
<path d="M26,-6 C36,-7 46,-10 54,-12" stroke-width="1.4" stroke-opacity="0.40"/>
<path d="M-3,3.4 C10,4 22,1 30,-1.5 S44,-6 52,-8" stroke-width="1.8" stroke-opacity="0.38"/>
<path d="M30,-18 C38,-20 46,-23 52,-26" stroke-width="1.5" stroke-opacity="0.35"/>
</g>
<g fill="none" stroke="#f41a1a" stroke-linecap="round" filter="url(#bl1)">
<path d="M11,-18.5 C24,-20.5 36,-23.5 50,-27" stroke-width="1.6" stroke-opacity="0.45"/>
<path d="M12,-6.3 C24,-7.5 34,-10 42,-12.5 S54,-17 60,-19" stroke-width="1.2" stroke-opacity="0.45"/>
<path d="M4,-0.5 C16,0 26,-2.5 34,-5" stroke-width="1.2" stroke-opacity="0.40"/>
</g>
</g></g>
<polygon points="535.2,609.4 544.0,607.6 544.0,609.6 535.6,611.2" fill="#bd690d" />
<polygon points="530.6,629.3 544.0,627.6 544.0,636.0 536.0,634.0" fill="#bd690d" />
<path d="M531.8,629.9 L544.0,634.2" stroke="#a85a10" stroke-width="2" stroke-opacity="0.8" fill="none"/>
<path d="M466.9,610.3 L466.4,648.8 A5.9,2.6 0 0 0 478.2,648.8 L478.9,610.3 Z" fill="url(#gCyl)"/>
<ellipse cx="472.9" cy="610.3" rx="6.0" ry="2.6" fill="#585858"/>
<polygon points="435.0,621.9 478.9,633.0 462.7,635.7" fill="#a8613a" />
<polygon points="435.0,621.9 451.2,618.4 496.2,629.5 478.9,633.0" fill="#cc8352" />
<clipPath id="u23"><polygon points="451.2,600.0 500.0,600.0 500.0,630.4 496.2,629.5 451.2,618.4"/></clipPath>
<g clip-path="url(#u23)">
<path d="M466.9,610.3 L466.4,648.8 A5.9,2.6 0 0 0 478.2,648.8 L478.9,610.3 Z" fill="url(#gCyl)"/>
<ellipse cx="472.9" cy="610.3" rx="6.0" ry="2.6" fill="#585858"/>
</g>
</g></g>
<rect x="366.4" y="588.6" width="176.2" height="102.4" fill="none" stroke="#161616" stroke-width="1.15"/>
</svg>
</body></html>
